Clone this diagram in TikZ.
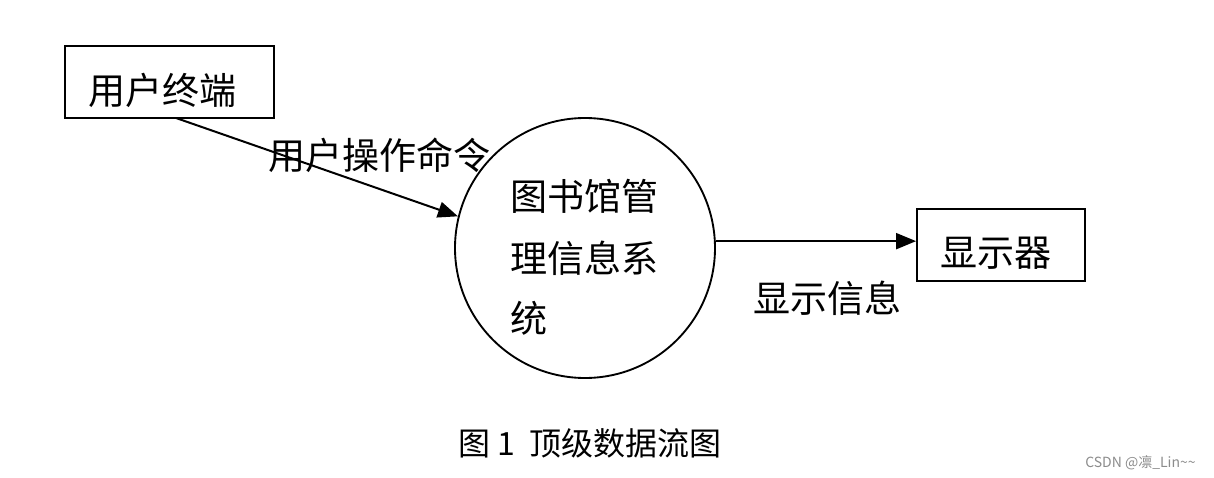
\documentclass[tikz,border=0pt]{standalone}
\usepackage{fontspec}
\setmainfont{Noto Sans CJK SC}
\usetikzlibrary{arrows.meta,calc}
\begin{document}
\begin{tikzpicture}[x=0.75pt,y=-0.75pt,
  box/.style={draw,line width=1.4pt,inner sep=0pt},
  lbl/.style={font=\fontsize{27.8}{32}\selectfont,inner sep=0pt,anchor=west},
  arr/.style={line width=1.5pt,-{Triangle[length=15pt,width=12pt]}}]
\useasboundingbox[fill=white] (0,0) rectangle (1214,478);
\node[box,minimum width=209*0.75pt,minimum height=72*0.75pt] (term) at (169.5,82) {};
\node[lbl] (termt) at (88,90) {用户终端};
\node[box,minimum width=168*0.75pt,minimum height=72*0.75pt] (disp) at (1001,245) {};
\node[lbl] (dispt) at (940,253) {显示器};
\node[draw,circle,line width=1.4pt,minimum size=260*0.75pt,inner sep=0pt] (sys) at (585,248) {};
\node[lbl] (s1) at (510,196) {图书馆管};
\node[lbl] (s2) at (510,258) {理信息系};
\node[lbl] (s3) at (510,318) {统};
\coordinate (a0) at (176,118);
\draw[arr] (a0) -- (sys.166);
\draw[arr] (sys.3) -- (sys.3 -| disp.west);
\node[lbl] (l1) at (268,155) {用户操作命令};
\node[lbl] (l2) at (753,298) {显示信息};
\node[font=\fontsize{24}{27}\selectfont,inner sep=0pt] (cap) at (590,443) {图 1\ \ 顶级数据流图};
\node[font=\fontsize{10.5}{12}\selectfont,text=black!45,inner sep=0pt,anchor=west] (wm) at (1085,463) {CSDN @凛\_Lin\textasciitilde\textasciitilde};
\end{tikzpicture}
\end{document}
